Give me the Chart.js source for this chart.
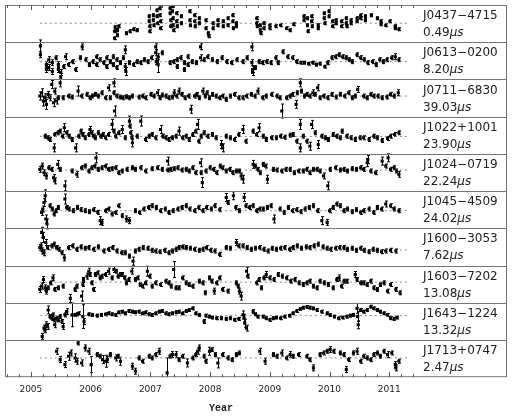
<!DOCTYPE html>
<html>
<head>
<meta charset="utf-8">
<script src="https://cdn.jsdelivr.net/npm/chart.js@4/dist/chart.umd.min.js"></script>
<style>
  html, body { margin: 0; padding: 0; background: #fff; }
  #wrap { width: 521px; height: 416px; }
</style>
</head>
<body>
<div id="wrap"><canvas id="chart"></canvas></div>
<script>
// pulsar labels and rms residuals, top panel first
const pulsarNames = ['J0437−4715', 'J0613−0200', 'J0711−6830', 'J1022+1001', 'J1024−0719',
                     'J1045−4509', 'J1600−3053', 'J1603−7202', 'J1643−1224', 'J1713+0747'];
const rmsValues = ['0.49', '8.20', '39.03', '23.90', '22.24', '24.02', '7.62', '13.08', '13.32', '2.47'];
const yearTicks = [2005, 2006, 2007, 2008, 2009, 2010, 2011];

// residuals per pulsar: [year, residual, error] (each panel scaled to its own rms)
const J0437_4715 = [
  [2006.40,-15,1.5],[2006.40,-8,1.5],[2006.41,-4,1.5],[2006.45,-12,1.5],[2006.45,-7,1.5],[2006.47,-3,1.5],
  [2006.60,-10,1.5],[2006.66,-8,1.5],[2006.72,-6,1.5],[2006.78,-7,1.5],
  [2006.98,7,1.5],[2006.98,2,1.5],[2006.99,-3,1.5],[2006.99,-8,1.5],[2007.05,8,1.5],[2007.05,3,1.5],[2007.06,-2,1.5],
  [2007.11,13,1.5],[2007.11,7,1.5],[2007.12,0,1.5],[2007.16,15,1.5],[2007.16,8,1.5],[2007.17,2,1.5],[2007.17,-5,1.5],
  [2007.33,15,1.5],[2007.33,10,1.5],[2007.34,3,1.5],[2007.34,-3,1.5],[2007.37,17,1.5],[2007.37,12,1.5],[2007.38,5,1.5],
  [2007.38,-2,1.5],[2007.39,-7,1.5],[2007.44,10,1.5],[2007.44,2,1.5],[2007.45,-3,1.5],[2007.52,7,1.5],[2007.52,0,1.5],
  [2007.66,12,1.5],[2007.66,3,1.5],[2007.67,-2,1.5],[2007.74,8,1.5],[2007.74,2,1.5],[2007.75,-3,1.5],[2007.82,5,1.5],
  [2007.82,0,1.5],[2007.93,3,1.5],[2007.93,-5,1.5],[2007.97,-10,1.5],[2007.98,-13,1.5],[2008.05,0,1.5],[2008.05,-5,1.5],
  [2008.13,3,1.5],[2008.13,-2,1.5],[2008.22,2,1.5],[2008.22,-3,1.5],[2008.30,5,1.5],[2008.30,-2,1.5],[2008.38,8,1.5],
  [2008.38,2,1.5],[2008.39,-5,1.5],[2008.44,0,1.5],[2008.44,-3,1.5],
  [2008.78,5,1.5],[2008.78,0,1.5],[2008.79,-3,1.5],[2008.84,-2,1.5],[2008.84,-7,1.5],[2008.85,-10,1.5],[2008.90,0,1.5],
  [2008.90,-5,1.5],[2009.00,-2,1.5],[2009.00,-5,1.5],[2009.10,-3,1.5],[2009.18,-2,1.5],[2009.28,-5,1.5],[2009.34,-7,1.5],
  [2009.40,-1,1.5],[2009.57,7,1.5],[2009.57,3,1.5],[2009.63,5,1.5],[2009.63,-2,1.5],[2009.64,-8,1.5],[2009.70,7,1.5],
  [2009.70,2,1.5],[2009.71,-3,1.5],[2009.81,-2,1.5],[2009.81,-5,1.5],[2009.91,10,1.5],[2009.91,5,1.5],[2009.92,0,1.5],
  [2009.99,12,1.5],[2009.99,7,1.5],[2010.05,2,1.5],[2010.05,-3,1.5],[2010.11,3,1.5],[2010.11,0,1.5],[2010.20,2,1.5],
  [2010.20,-3,1.5],[2010.28,5,1.5],[2010.28,0,1.5],[2010.29,-3,1.5],[2010.36,3,1.5],[2010.36,0,1.5],[2010.46,5,1.5],
  [2010.46,2,1.5],[2010.52,8,1.5],[2010.52,5,1.5],[2010.60,7,1.5],[2010.60,3,1.5],[2010.70,8,1.5],[2010.80,5,1.5],
  [2010.86,2,1.5],[2010.86,-1,1.5],[2010.94,-2,1.5],[2011.01,2,1.5],[2011.10,-3,1.5],[2011.10,-5,1.5],[2011.16,-6,1.5]
];
const J0613_0200 = [
  [2005.16,16,6],[2005.16,7,3],[2005.26,-3,3],[2005.26,-8,3],[2005.30,2,3],[2005.30,-6,3],[2005.36,-1,3],[2005.36,-10,3],
  [2005.42,4,2],[2005.46,-3,3],[2005.46,-8,3],[2005.50,-11,3],[2005.50,-15,3],[2005.55,-5,2],[2005.58,5,3],[2005.63,-3,2],
  [2005.70,0,2],[2005.75,-8,2],[2005.83,4,2],[2005.86,15,3],[2005.92,2,2],[2005.98,-3,2],[2006.04,0,2],[2006.10,5,2],
  [2006.10,-3,2],[2006.16,2,2],[2006.22,-1,2],[2006.27,4,2],[2006.27,-5,2],[2006.33,0,2],[2006.38,5,2],[2006.38,-3,2],
  [2006.44,2,2],[2006.44,-6,2],[2006.50,-1,2],[2006.55,4,2],[2006.58,12,4],[2006.58,-5,3],[2006.59,-10,4],[2006.65,-1,2],
  [2006.72,-3,2],[2006.78,0,2],[2006.84,-1,2],[2006.90,2,2],[2006.96,0,2],[2007.02,4,2],[2007.09,15,3],[2007.09,9,3],
  [2007.10,0,3],[2007.13,5,3],[2007.13,-3,8],[2007.20,9,2],[2007.33,-1,2],[2007.39,0,2],[2007.45,2,2],[2007.45,-5,2],
  [2007.51,4,2],[2007.57,-1,2],[2007.57,-8,2],[2007.63,5,2],[2007.63,-3,2],[2007.70,0,2],[2007.77,-1,2],[2007.84,15,3],
  [2007.84,4,3],[2007.90,2,2],[2007.96,5,2],[2008.04,2,2],[2008.12,0,2],[2008.20,4,2],[2008.28,0,2],[2008.36,-1,2],
  [2008.45,2,2],[2008.55,0,2],[2008.62,4,2],[2008.70,15,4],[2008.70,-1,3],[2008.71,-8,3],[2008.71,-11,3],[2008.76,-6,2],
  [2008.82,0,2],[2008.88,-1,2],[2008.95,0,2],[2009.02,-1,2],[2009.10,4,2],[2009.14,-1,2],[2009.22,10,2],[2009.30,5,2],
  [2009.38,4,2],[2009.45,0,2],[2009.52,-1,1.5],[2009.58,-1,1.5],[2009.65,-2,1.5],[2009.72,-1,1.5],[2009.78,-3,1.5],
  [2009.84,-2,1.5],[2009.92,-5,1.5],[2009.97,-1,2],[2010.04,4,2],[2010.10,5,2],[2010.16,7,2],[2010.22,5,2],[2010.28,4,2],
  [2010.33,2,2],[2010.38,0,2],[2010.46,7,2],[2010.52,4,2],[2010.58,2,2],[2010.64,-1,2],[2010.72,0,2],[2010.78,-3,2],
  [2010.84,2,2],[2010.90,0,2],[2010.96,2,2],[2011.04,4,2],[2011.10,5,3],[2011.16,2,2]
];
const J0711_6830 = [
  [2005.15,0,4],[2005.18,3.3,4],[2005.21,-5,5],[2005.24,-1.7,4],[2005.26,-8.3,5],[2005.29,1.7,3],[2005.32,-1.7,3],
  [2005.35,11.7,4],[2005.38,-6.7,4],[2005.40,5,3],[2005.43,-5,3],[2005.46,-1.7,2],[2005.49,13.3,4],[2005.54,-1.7,2],
  [2005.63,0,2],[2005.69,-1,2],[2005.79,5,5],[2005.85,0,2],[2005.94,1.7,2],[2005.99,-1.7,2],[2006.03,0,2],[2006.08,1.7,2],
  [2006.13,0,2],[2006.19,3.3,2],[2006.25,-1.7,2],[2006.30,8.3,3],[2006.33,-1.7,2],[2006.39,13.3,4],[2006.39,3.3,2],
  [2006.40,-15,5],[2006.44,0,2],[2006.50,-1,2],[2006.54,-1.7,2],[2006.60,-0.7,2],[2006.65,-1.7,2],[2006.70,0,2],
  [2006.81,-1,2],[2006.87,0,2],[2006.92,-1.7,2],[2007.01,1.7,2],[2007.06,0,2],[2007.12,3.3,3],[2007.16,-1.7,2],
  [2007.20,1,2],[2007.26,0,2],[2007.31,-1.7,2],[2007.37,-1,2],[2007.40,3.3,3],[2007.44,0,2],[2007.48,5,3],[2007.53,1.7,2],
  [2007.58,-1.7,2],[2007.64,0,2],[2007.68,-13.3,4],[2007.74,0,2],[2007.78,1.7,2],[2007.82,-1.7,2],[2007.88,5,3],
  [2007.92,0,2],[2007.95,3.3,2],[2007.99,-1.7,2],[2008.04,1.7,2],[2008.10,0,2],[2008.16,-1.7,2],[2008.21,0,2],
  [2008.27,-3.3,2],[2008.34,0,2],[2008.41,1.7,2],[2008.48,-1.7,2],[2008.55,-1.7,2],[2008.61,0,2],[2008.69,1.7,2],
  [2008.75,0,2],[2008.80,5,3],[2008.88,-1.7,2],[2008.94,0,2],[2009.03,1.7,2],[2009.12,0,2],[2009.17,-1.7,2],
  [2009.20,-15,7],[2009.28,-1.7,2],[2009.34,0,2],[2009.38,1.7,2],[2009.44,-8.3,4],[2009.46,3.3,2],[2009.51,13.3,4],
  [2009.53,5,2],[2009.58,0,2],[2009.62,1.7,2],[2009.67,0,2],[2009.72,3.3,3],[2009.76,1.7,2],[2009.80,8.3,3],
  [2009.84,-1.7,2],[2009.90,0,2],[2009.97,-1.7,2],[2010.04,1.7,2],[2010.11,-1,2],[2010.18,1.7,2],[2010.25,0,2],
  [2010.32,3.3,2],[2010.38,-1.7,2],[2010.43,0,2],[2010.47,6.7,3],[2010.57,0,2],[2010.63,-1.7,2],[2010.69,1.7,2],
  [2010.74,0,2],[2010.81,0,2],[2010.88,-1.7,2],[2010.96,-1,2],[2011.02,1.7,2],[2011.08,0,2],[2011.15,3.3,3]
];
const J1022_1001 = [
  [2005.24,0.3,2],[2005.28,-1.3,2],[2005.32,-3,2],[2005.39,-11.3,4],[2005.40,2,2],[2005.45,3.7,2],[2005.49,5.3,2],
  [2005.53,0.3,2],[2005.56,8.7,4],[2005.60,3.7,2],[2005.64,0.3,2],[2005.69,-3,2],[2005.75,-11.3,4],[2005.80,0.3,2],
  [2005.84,5.3,2],[2005.87,2,2],[2005.91,-1.3,2],[2005.97,2,2],[2005.99,7,3],[2006.02,3.7,2],[2006.05,0.3,2],
  [2006.08,-1.3,2],[2006.13,3.7,2],[2006.17,0.3,2],[2006.21,2,2],[2006.25,-1.3,2],[2006.30,2,2],[2006.36,12,5],
  [2006.39,5.3,2],[2006.42,0.3,2],[2006.47,3.7,2],[2006.53,7,4],[2006.58,-1.3,2],[2006.65,15.3,5],[2006.66,10.3,2],
  [2006.67,3.7,2],[2006.69,-1.3,2],[2006.70,-6.3,4],[2006.78,0.3,2],[2006.84,15.3,5],[2006.92,-3,2],[2006.98,0.3,2],
  [2007.03,2,2],[2007.09,-1.3,2],[2007.17,7,4],[2007.21,0.3,2],[2007.26,-1.3,2],[2007.31,-3,2],[2007.37,-1.3,2],
  [2007.43,0.3,2],[2007.48,5.3,4],[2007.54,-1.3,2],[2007.60,0.3,2],[2007.65,-3,2],[2007.71,2,2],[2007.76,5.3,2],
  [2007.79,12,5],[2007.81,-4.7,2],[2007.85,0.3,2],[2007.90,3.7,2],[2007.96,0.3,2],[2008.04,2,2],[2008.10,-1.3,2],
  [2008.19,-8,4],[2008.21,-11.3,4],[2008.27,0.3,2],[2008.34,-1.3,2],[2008.41,-3,2],[2008.48,2,2],[2008.55,7,4],
  [2008.60,-4.7,2],[2008.72,5.3,2],[2008.78,2,2],[2008.82,8.7,4],[2008.89,0.3,2],[2008.94,-3,2],[2009.03,-1.3,2],
  [2009.11,-1.3,2],[2009.18,0.3,2],[2009.25,-0.7,2],[2009.34,1.3,2],[2009.39,2,2],[2009.45,-4.7,2],[2009.51,-11.3,4],
  [2009.51,12,5],[2009.56,0.3,2],[2009.62,-4.7,2],[2009.67,-9.7,4],[2009.70,12,4],[2009.76,3.7,2],[2009.81,-8,4],
  [2009.87,0.3,2],[2009.93,-1.3,2],[2009.98,-3,2],[2010.06,2,2],[2010.12,0.3,2],[2010.18,-1.3,2],[2010.21,5.3,2],
  [2010.29,0.3,2],[2010.36,-1.3,2],[2010.43,-3,2],[2010.51,-1.3,2],[2010.57,-1.3,2],[2010.66,-3,2],[2010.74,0.3,2],
  [2010.80,-1.3,2],[2010.88,-4,2],[2010.97,-2,2],[2011.02,0.3,2],[2011.09,2,2],[2011.16,3.7,2]
];
const J1024_0719 = [
  [2005.15,0.7,3],[2005.19,4,3],[2005.22,-2.7,3],[2005.26,-6,3],[2005.30,2.3,2],[2005.35,0.7,2],[2005.38,-7.7,3],
  [2005.40,-11,3],[2005.45,5.7,4],[2005.49,0.7,2],[2005.57,-16,5],[2005.69,-1,2],[2005.77,-4.3,3],[2005.85,2.3,2],
  [2005.91,4,2],[2005.97,-1,2],[2006.02,2.3,2],[2006.07,4,2],[2006.09,12.3,5],[2006.13,0.7,2],[2006.19,2.3,2],
  [2006.25,4,2],[2006.30,0.7,2],[2006.36,1.3,2],[2006.42,2.3,2],[2006.47,-2.7,2],[2006.53,-1,2],[2006.61,0.7,2],
  [2006.70,2.3,2],[2006.75,0.7,2],[2006.84,2.3,2],[2006.92,-1,2],[2007.03,1.3,2],[2007.12,2.3,2],[2007.20,0.7,2],
  [2007.29,9,4],[2007.29,0,2],[2007.34,0.7,2],[2007.40,1.3,2],[2007.46,2.3,2],[2007.53,0,2],[2007.60,0.7,2],
  [2007.65,-1,2],[2007.71,2.3,2],[2007.76,-2.7,2],[2007.84,7.3,4],[2007.85,-2.7,2],[2007.87,-12.7,5],[2007.93,-1,2],
  [2008.00,2.3,2],[2008.06,0.7,2],[2008.11,-2.7,2],[2008.17,4,2],[2008.21,2.3,2],[2008.27,-1,2],[2008.33,0.7,2],
  [2008.38,-2.7,2],[2008.44,-1,2],[2008.49,-1,2],[2008.52,-6,3],[2008.55,-9.3,4],[2008.72,5.7,4],[2008.76,4,2],
  [2008.80,0.7,2],[2008.84,-2.7,2],[2008.89,5.7,2],[2008.93,4,2],[2008.96,-9.3,4],[2009.06,0.7,2],[2009.12,0,2],
  [2009.20,-1,2],[2009.27,0.7,2],[2009.34,0.7,2],[2009.41,-2.7,2],[2009.48,-1,2],[2009.56,-1,2],[2009.62,0.7,2],
  [2009.67,-2.7,2],[2009.73,0.7,2],[2009.79,0.7,2],[2009.84,-1,2],[2009.90,-6,3],[2009.97,-16,4],[2010.01,0.7,2],
  [2010.10,2.3,2],[2010.18,0,2],[2010.24,0.7,2],[2010.30,-1,2],[2010.38,1.3,2],[2010.45,0.7,2],[2010.52,2.3,2],
  [2010.57,0.7,2],[2010.63,7.3,4],[2010.64,10.7,4],[2010.69,-1,2],[2010.77,-2.7,2],[2010.88,9,4],[2010.94,4,2],
  [2010.98,12.3,4],[2011.02,0.7,2],[2011.08,2.3,2],[2011.12,-1,2],[2011.16,-4.3,3]
];
const J1045_4509 = [
  [2005.18,-1.7,3],[2005.20,1.7,3],[2005.22,8.3,4],[2005.24,15,6],[2005.25,-8.3,4],[2005.27,-13.3,5],[2005.32,5,2],
  [2005.36,1.7,2],[2005.39,-3.3,2],[2005.42,0,2],[2005.46,3.3,2],[2005.57,11.7,5],[2005.60,3.3,2],[2005.64,1.7,2],
  [2005.71,0,2],[2005.78,3.3,2],[2005.84,1,2],[2005.91,0,2],[2005.98,-1,2],[2006.05,1,2],[2006.12,-1.7,2],
  [2006.16,-10,4],[2006.19,-11.7,3],[2006.25,0,2],[2006.30,1.7,2],[2006.36,-3.3,2],[2006.42,-1.7,2],[2006.47,5,2],
  [2006.53,-5,2],[2006.60,-8.3,3],[2006.65,-10,3],[2006.75,0,2],[2006.82,-1.7,2],[2006.89,1.7,2],[2006.97,3.3,2],
  [2007.03,5,2],[2007.10,3.3,2],[2007.17,0,2],[2007.25,1.7,2],[2007.31,-1.7,2],[2007.38,0,2],[2007.46,1.7,2],
  [2007.53,3.3,2],[2007.60,5,2],[2007.66,1.7,2],[2007.74,0,2],[2007.81,3.3,2],[2007.88,0,2],[2007.94,3.3,2],
  [2008.02,1.7,2],[2008.08,5,2],[2008.16,1,2],[2008.27,13.3,4],[2008.30,8.3,2],[2008.39,15,4],[2008.43,3.3,2],
  [2008.49,0,2],[2008.57,13.3,4],[2008.60,5,2],[2008.66,3.3,2],[2008.72,5,2],[2008.78,0,2],[2008.83,1.7,2],
  [2008.89,1.7,2],[2008.96,3.3,2],[2009.02,5,2],[2009.07,-8.3,4],[2009.17,1.7,2],[2009.24,-1.7,2],[2009.31,3.3,2],
  [2009.38,0,2],[2009.45,1,2],[2009.52,-1,2],[2009.59,1.7,2],[2009.66,3.3,2],[2009.73,5,2],[2009.80,0,2],
  [2009.87,-10,4],[2009.96,-11.7,3],[2010.00,0,2],[2010.06,3.3,2],[2010.12,6.7,2],[2010.18,5,2],[2010.24,0,2],
  [2010.30,1.7,2],[2010.38,-1,2],[2010.45,1,2],[2010.52,-1.7,2],[2010.57,0,2],[2010.66,1.7,2],[2010.74,-1.7,2],
  [2010.80,3.3,2],[2010.87,1.7,2],[2010.94,6.7,3],[2011.02,5,2],[2011.08,1.7,2],[2011.16,0,2]
];
const J1600_3053 = [
  [2005.15,2.3,3],[2005.17,4,3],[2005.18,17.3,5],[2005.19,-1,3],[2005.21,12.3,5],[2005.22,-2.7,3],[2005.25,7.3,3],
  [2005.28,2.3,2],[2005.35,4,2],[2005.39,5.7,2],[2005.43,2.3,2],[2005.47,0.7,2],[2005.52,-2.7,2],[2005.56,-7.7,3],
  [2005.63,2.3,2],[2005.70,4,2],[2005.77,0.7,2],[2005.84,3,2],[2005.91,1.7,2],[2005.97,2.3,2],[2006.05,0.7,2],
  [2006.13,3,2],[2006.22,-1,2],[2006.30,0.7,2],[2006.37,2.3,2],[2006.44,-1,2],[2006.52,-2.7,2],[2006.58,-2.7,2],
  [2006.65,-6,2],[2006.71,-11,4],[2006.75,-1,2],[2006.81,0.7,2],[2006.88,2.3,2],[2006.96,1.7,2],[2007.03,-0.3,2],
  [2007.09,-1,2],[2007.16,-1.7,2],[2007.24,-0.3,2],[2007.31,-2.7,2],[2007.37,-1,2],[2007.43,0.7,2],[2007.48,2.3,2],
  [2007.54,3,2],[2007.60,2.3,2],[2007.67,1.7,2],[2007.74,0.7,2],[2007.82,-0.3,2],[2007.88,0.7,2],[2007.94,2.3,2],
  [2008.01,-0.3,2],[2008.08,-1,2],[2008.16,-4.3,2],[2008.27,2.3,2],[2008.34,1.7,2],[2008.44,7.3,3],[2008.48,4,2],
  [2008.55,4,2],[2008.62,2.3,2],[2008.69,0.7,2],[2008.76,1.7,2],[2008.83,2.3,2],[2008.90,0.7,2],[2008.97,-1,2],
  [2009.04,1.7,2],[2009.11,0.7,2],[2009.18,1.7,2],[2009.25,2.3,2],[2009.33,0.7,2],[2009.39,2.3,2],[2009.46,4,2],
  [2009.53,1.7,2],[2009.61,3,2],[2009.67,2.3,2],[2009.74,4,2],[2009.81,5.7,2],[2009.89,3,2],[2009.96,1.7,2],
  [2010.02,0.7,2],[2010.10,1.7,2],[2010.17,2.3,2],[2010.24,2.3,2],[2010.30,0.7,2],[2010.38,1.7,2],[2010.45,-0.3,2],
  [2010.52,1.7,2],[2010.58,-0.3,2],[2010.66,-1.7,2],[2010.73,0.7,2],[2010.80,-0.3,2],[2010.87,-1.7,2],[2010.94,-1,2],
  [2011.02,-0.3,2],[2011.11,-1,2]
];
const J1603_7202 = [
  [2005.15,-7.3,3],[2005.18,-4,3],[2005.21,2.7,3],[2005.24,-5.7,3],[2005.26,-9,3],[2005.29,-5.7,2],[2005.33,-0.7,2],
  [2005.37,4.3,3],[2005.40,-7.3,2],[2005.46,-5.7,2],[2005.54,-4,2],[2005.66,-16.3,4],[2005.74,-7.3,2],[2005.77,-4,2],
  [2005.85,-14,5],[2005.87,-2.3,2],[2005.88,2.7,2],[2005.94,6,3],[2005.97,11,3],[2005.99,7.7,2],[2006.02,-0.7,2],
  [2006.05,-7.3,2],[2006.08,7.7,2],[2006.12,9.3,2],[2006.16,4.3,2],[2006.19,6,2],[2006.25,7.7,2],[2006.30,11,3],
  [2006.36,4.3,2],[2006.39,12.7,3],[2006.43,11,2],[2006.46,6,2],[2006.50,7.7,2],[2006.53,7.7,2],[2006.57,4.3,2],
  [2006.60,-0.7,2],[2006.64,2.7,2],[2006.69,11,3],[2006.75,2.7,2],[2006.79,4.3,2],[2006.83,-2.3,2],[2006.87,-4,2],
  [2006.92,-0.7,2],[2006.95,11,5],[2006.99,6,2],[2007.03,-4,2],[2007.09,-0.7,2],[2007.17,-2.3,2],[2007.26,1,2],
  [2007.31,-0.7,2],[2007.35,-4,2],[2007.39,12.7,8],[2007.43,-5.7,2],[2007.48,-5.7,2],[2007.54,4.3,2],[2007.60,-0.7,2],
  [2007.65,-2.3,2],[2007.71,-4,2],[2007.82,1,2],[2007.88,-0.7,2],[2007.92,-10.7,2],[2007.99,4.3,2],[2008.03,1,2],
  [2008.07,-9,3],[2008.11,-0.7,2],[2008.16,4.3,2],[2008.21,-7.3,2],[2008.30,-9,2],[2008.44,-0.7,2],[2008.47,-4,2],
  [2008.49,-9,3],[2008.52,-14,4],[2008.61,11,4],[2008.63,6,2],[2008.78,-0.7,2],[2008.82,2.7,2],[2008.86,-5.7,2],
  [2008.90,4.3,2],[2008.94,7.7,3],[2009.00,4.3,2],[2009.07,2.7,2],[2009.14,7.7,2],[2009.21,6,2],[2009.28,4.3,2],
  [2009.35,1,2],[2009.42,2.7,2],[2009.49,-0.7,2],[2009.56,-2.3,2],[2009.62,-0.7,2],[2009.67,1,2],[2009.73,-4,2],
  [2009.79,-5.7,2],[2009.84,1,2],[2009.91,-0.7,2],[2009.98,-2.3,2],[2010.06,-5.7,2],[2010.12,2.7,2],[2010.16,4.3,3],
  [2010.20,-4,2],[2010.24,1,2],[2010.29,1,2],[2010.43,7.7,3],[2010.46,2.7,2],[2010.52,-0.7,2],[2010.57,-0.7,2],
  [2010.63,-2.3,2],[2010.69,1,2],[2010.74,-5.7,2],[2010.80,-7.3,2],[2010.85,-2.3,2],[2010.91,-0.7,2],[2010.97,-9,2],
  [2011.02,-2.3,2],[2011.11,-7.3,2],[2011.18,-10.7,2]
];
const J1643_1224 = [
  [2005.19,-21,3],[2005.22,-12.7,3],[2005.24,-14.3,3],[2005.26,-9.3,3],[2005.28,-11,3],[2005.29,5.7,4],[2005.32,-1,2],
  [2005.35,-2.7,2],[2005.37,0.7,2],[2005.39,-4.3,2],[2005.40,-9.3,3],[2005.43,-2.7,2],[2005.46,-4.3,2],[2005.49,-1,2],
  [2005.52,-6,2],[2005.54,-11,3],[2005.57,0.7,2],[2005.60,4,3],[2005.69,0.7,12],[2005.74,0.7,1.5],[2005.77,1.3,1.5],
  [2005.80,2.3,1.5],[2005.87,-1,12],[2005.89,-6,3],[2005.97,1.3,1.5],[2006.03,0.7,1.5],[2006.11,0,1.5],[2006.18,0.7,1.5],
  [2006.25,1.3,1.5],[2006.30,2.3,1.5],[2006.36,1.3,1.5],[2006.42,0.7,1.5],[2006.47,3.3,1.5],[2006.53,4,1.5],
  [2006.58,2.3,1.5],[2006.64,4.7,1.5],[2006.70,4,1.5],[2006.75,3.3,1.5],[2006.81,4,1.5],[2006.87,2.3,1.5],
  [2006.92,3.3,1.5],[2006.98,1.3,1.5],[2007.03,0.7,1.5],[2007.09,2.3,1.5],[2007.15,4,1.5],[2007.20,4.7,1.5],
  [2007.26,2.3,1.5],[2007.31,1.3,1.5],[2007.37,2.3,1.5],[2007.43,3.3,1.5],[2007.48,4,1.5],[2007.54,2.3,1.5],
  [2007.60,4.7,1.5],[2007.65,5.7,1.5],[2007.71,7.3,1.5],[2007.76,2.3,1.5],[2007.82,0.7,1.5],[2007.90,-6,2],
  [2007.93,0,1.5],[2007.99,-1,1.5],[2008.04,-2,1.5],[2008.11,-2.7,1.5],[2008.19,-2.7,1.5],[2008.27,-3.3,1.5],
  [2008.34,-2.7,1.5],[2008.41,-4.3,1.5],[2008.48,-3.3,1.5],[2008.55,0.7,4],[2008.57,-2.7,4],[2008.58,-7.7,4],
  [2008.61,-12.7,3],[2008.72,4,2],[2008.76,1.3,1.5],[2008.80,-1,1.5],[2008.89,-1,1.5],[2008.94,-2.7,1.5],
  [2009.00,-4.3,1.5],[2009.06,-2.7,1.5],[2009.11,-2,1.5],[2009.18,-2.7,1.5],[2009.25,-1,1.5],[2009.33,0,1.5],
  [2009.39,2.3,1.5],[2009.45,4.7,1.5],[2009.51,6.7,1.5],[2009.56,8,1.5],[2009.62,8.7,1.5],[2009.67,8,1.5],
  [2009.73,7.3,1.5],[2009.79,5.7,1.5],[2009.87,4,1.5],[2009.96,2.3,1.5],[2010.01,0.7,1.5],[2010.08,-1,1.5],
  [2010.15,-2.7,1.5],[2010.22,-2,1.5],[2010.29,-1,1.5],[2010.35,0,1.5],[2010.40,0.7,1.5],[2010.46,7.3,5],
  [2010.47,-1,5],[2010.48,-9.3,4],[2010.52,5.7,1.5],[2010.57,4,1.5],[2010.63,5.7,1.5],[2010.69,9,1.5],[2010.74,7.3,1.5],
  [2010.80,5.7,1.5],[2010.85,4,1.5],[2010.91,2.3,1.5],[2010.97,0.7,1.5],[2011.02,-2.7,1.5],[2011.08,-3.3,1.5],
  [2011.13,-2,1.5]
];
const J1713_0747 = [
  [2005.43,6.7,3],[2005.49,-1.7,3],[2005.57,-6.7,3],[2005.63,1.7,4],[2005.67,5,3],[2005.74,0,4],[2005.77,-3.3,3],
  [2005.79,15,2],[2005.85,-5,3],[2005.91,10,3],[2005.97,6.7,3],[2006.01,-6.7,8],[2006.11,3.3,2],[2006.16,1.7,2],
  [2006.20,-1.7,4],[2006.25,-3.3,6],[2006.28,-1.7,3],[2006.33,3.3,2],[2006.42,0,3],[2006.46,1.7,2],[2006.50,-3.3,4],
  [2006.70,-8.3,3],[2006.75,-13.3,3],[2006.81,0,2],[2006.87,-3.3,2],[2006.98,1.7,2],[2007.03,0,2],[2007.09,3.3,2],
  [2007.15,6.7,3],[2007.28,-15,15],[2007.33,1.7,2],[2007.37,3.3,3],[2007.43,3.3,3],[2007.48,-1.7,2],[2007.54,1.7,2],
  [2007.62,-5,4],[2007.71,0,2],[2007.76,3.3,2],[2007.79,6.7,3],[2007.82,10,3],[2007.90,1.7,2],[2007.93,-3.3,2],
  [2007.99,6.7,4],[2008.03,8.3,2],[2008.09,3.3,2],[2008.13,-5,5],[2008.21,3.3,2],[2008.30,0,2],[2008.37,-1.7,2],
  [2008.44,3.3,2],[2008.49,5,2],[2008.83,6.7,3],[2008.92,-3.3,3],[2009.06,3.3,2],[2009.12,1.7,2],[2009.20,5,3],
  [2009.28,0,2],[2009.34,3.3,3],[2009.39,1.7,2],[2009.48,3.3,2],[2009.62,1.7,2],[2009.67,-1.7,2],[2009.73,-10,3],
  [2009.84,3.3,2],[2009.90,5,2],[2009.96,6.7,2],[2010.01,8.3,3],[2010.07,6.7,2],[2010.18,5,2],[2010.24,3.3,2],
  [2010.28,-11.7,3],[2010.32,-1.7,2],[2010.40,5,2],[2010.46,6.7,3],[2010.52,-3.3,2],[2010.57,1.7,2],[2010.63,0,2],
  [2010.69,-1.7,2],[2010.74,3.3,2],[2010.80,5,2],[2010.85,1.7,2],[2010.91,6.7,2],[2010.97,3.3,3],[2011.04,5,2],
  [2011.10,-6.7,3],[2011.11,-10,3],[2011.16,-3.3,2]
];
const residualSets = [J0437_4715, J0613_0200, J0711_6830, J1022_1001, J1024_0719,
                      J1045_4509, J1600_3053, J1603_7202, J1643_1224, J1713_0747];
// vertical range shown in each panel
const panelLow  = [-19, -18, -20.7, -17.3, -21.3, -17.7, -15.3, -20.7, -24.7, -19.3];
const panelHigh = [18.3, 19.7, 16.7, 19.7, 16.3, 19.7, 21.3, 16.7, 13, 18];
const zeroSpan = [2005.15, 2011.3];

const datasets = [];
const scales = {
  x: {
    type: 'linear',
    min: 2004.567,
    max: 2012.97,
    afterBuildTicks: s => { s.ticks = yearTicks.map(v => ({ value: v })); },
    ticks: { autoSkip: false, maxRotation: 0, padding: 7, color: '#222',
             font: { family: 'DejaVu Sans', size: 9 }, callback: v => String(v) },
    grid: { display: false, drawTicks: false },
    border: { display: false }
  }
};

// stacked left scales are laid out last-added on top, so add the bottom panel first
for (let i = residualSets.length - 1; i >= 0; i--) {
  scales['y' + i] = {
    type: 'linear', position: 'left', stack: 'psr', stackWeight: 1,
    min: panelLow[i], max: panelHigh[i],
    ticks: { display: false }, grid: { display: false, drawTicks: false }, border: { display: false },
    afterFit: s => { s.width = 0; }
  };
}

residualSets.forEach((rows, i) => {
  const axis = 'y' + i;
  datasets.push({
    type: 'scatter', yAxisID: axis, errorBars: true, order: 1,
    data: rows.map(r => ({ x: r[0], y: r[1], err: r[2] })),
    pointStyle: 'rect', pointRadius: 2.2, backgroundColor: '#000', borderWidth: 0
  });
  datasets.push({
    type: 'line', yAxisID: axis, order: 2,
    data: zeroSpan.map(x => ({ x: x, y: 0 })),
    borderColor: '#8c8c8c', borderWidth: 1, borderDash: [2, 3], pointRadius: 0
  });
});

const panelPlugin = {
  id: 'panels',
  beforeDatasetsDraw(chart) {
    const { ctx, chartArea: a } = chart;
    const xs = chart.scales.x;
    ctx.save();
    ctx.beginPath();
    ctx.rect(a.left, a.top, a.right - a.left, a.bottom - a.top);
    ctx.clip();
    ctx.strokeStyle = '#000';
    ctx.lineWidth = 1;
    chart.data.datasets.forEach(ds => {
      if (!ds.errorBars) return;
      const ys = chart.scales[ds.yAxisID];
      ds.data.forEach(p => {
        const x = Math.round(xs.getPixelForValue(p.x)) + 0.5;
        const y1 = ys.getPixelForValue(p.y + p.err);
        const y2 = ys.getPixelForValue(p.y - p.err);
        ctx.beginPath();
        ctx.moveTo(x, y1); ctx.lineTo(x, y2);
        ctx.moveTo(x - 1.5, y1); ctx.lineTo(x + 1.5, y1);
        ctx.moveTo(x - 1.5, y2); ctx.lineTo(x + 1.5, y2);
        ctx.stroke();
      });
    });
    ctx.restore();
  },
  afterDraw(chart) {
    const { ctx, chartArea: a } = chart;
    const xs = chart.scales.x;
    ctx.save();
    ctx.strokeStyle = '#777';
    ctx.lineWidth = 1;
    // panel separators
    residualSets.forEach((rows, i) => {
      if (i === residualSets.length - 1) return;
      const y = Math.round(chart.scales['y' + i].bottom) + 0.5;
      ctx.beginPath(); ctx.moveTo(a.left, y); ctx.lineTo(a.right, y); ctx.stroke();
    });
    ctx.strokeRect(a.left + 0.5, a.top + 0.5, a.right - a.left - 1, a.bottom - a.top - 1);
    // inward ticks on top and bottom edges, 0.2 yr apart
    ctx.strokeStyle = '#555';
    for (let k = 0; k <= 34; k++) {
      const v = 2004.6 + k * 0.2;
      const major = Math.abs(v - Math.round(v)) < 0.01;
      const len = major ? 5 : 3;
      const x = Math.round(xs.getPixelForValue(v)) + 0.5;
      ctx.beginPath();
      ctx.moveTo(x, a.bottom); ctx.lineTo(x, a.bottom - len);
      ctx.moveTo(x, a.top); ctx.lineTo(x, a.top + len);
      ctx.stroke();
    }
    // pulsar names and rms
    ctx.fillStyle = '#222';
    ctx.textBaseline = 'middle';
    ctx.textAlign = 'left';
    const tx = a.right - 84;
    pulsarNames.forEach((name, i) => {
      const top = chart.scales['y' + i].top;
      ctx.font = '12px "DejaVu Sans"';
      ctx.fillText(name, tx, top + 11);
      ctx.fillText(rmsValues[i], tx, top + 28);
      const w = ctx.measureText(rmsValues[i]).width;
      ctx.font = 'italic 12px "DejaVu Sans"';
      ctx.fillText('μs', tx + w, top + 28);
    });
    // axis title
    ctx.font = 'bold 10px "Liberation Mono"';
    ctx.textAlign = 'center';
    ctx.fillText('Year', 221, 408);
    ctx.restore();
  }
};

new Chart(document.getElementById('chart'), {
  type: 'scatter',
  data: { datasets: datasets },
  options: {
    responsive: true,
    maintainAspectRatio: false,
    animation: false,
    layout: { padding: { left: 5, right: 14, top: 5, bottom: 14 } },
    plugins: { legend: { display: false }, tooltip: { enabled: false } },
    scales: scales
  },
  plugins: [panelPlugin]
});
</script>
</body>
</html>
